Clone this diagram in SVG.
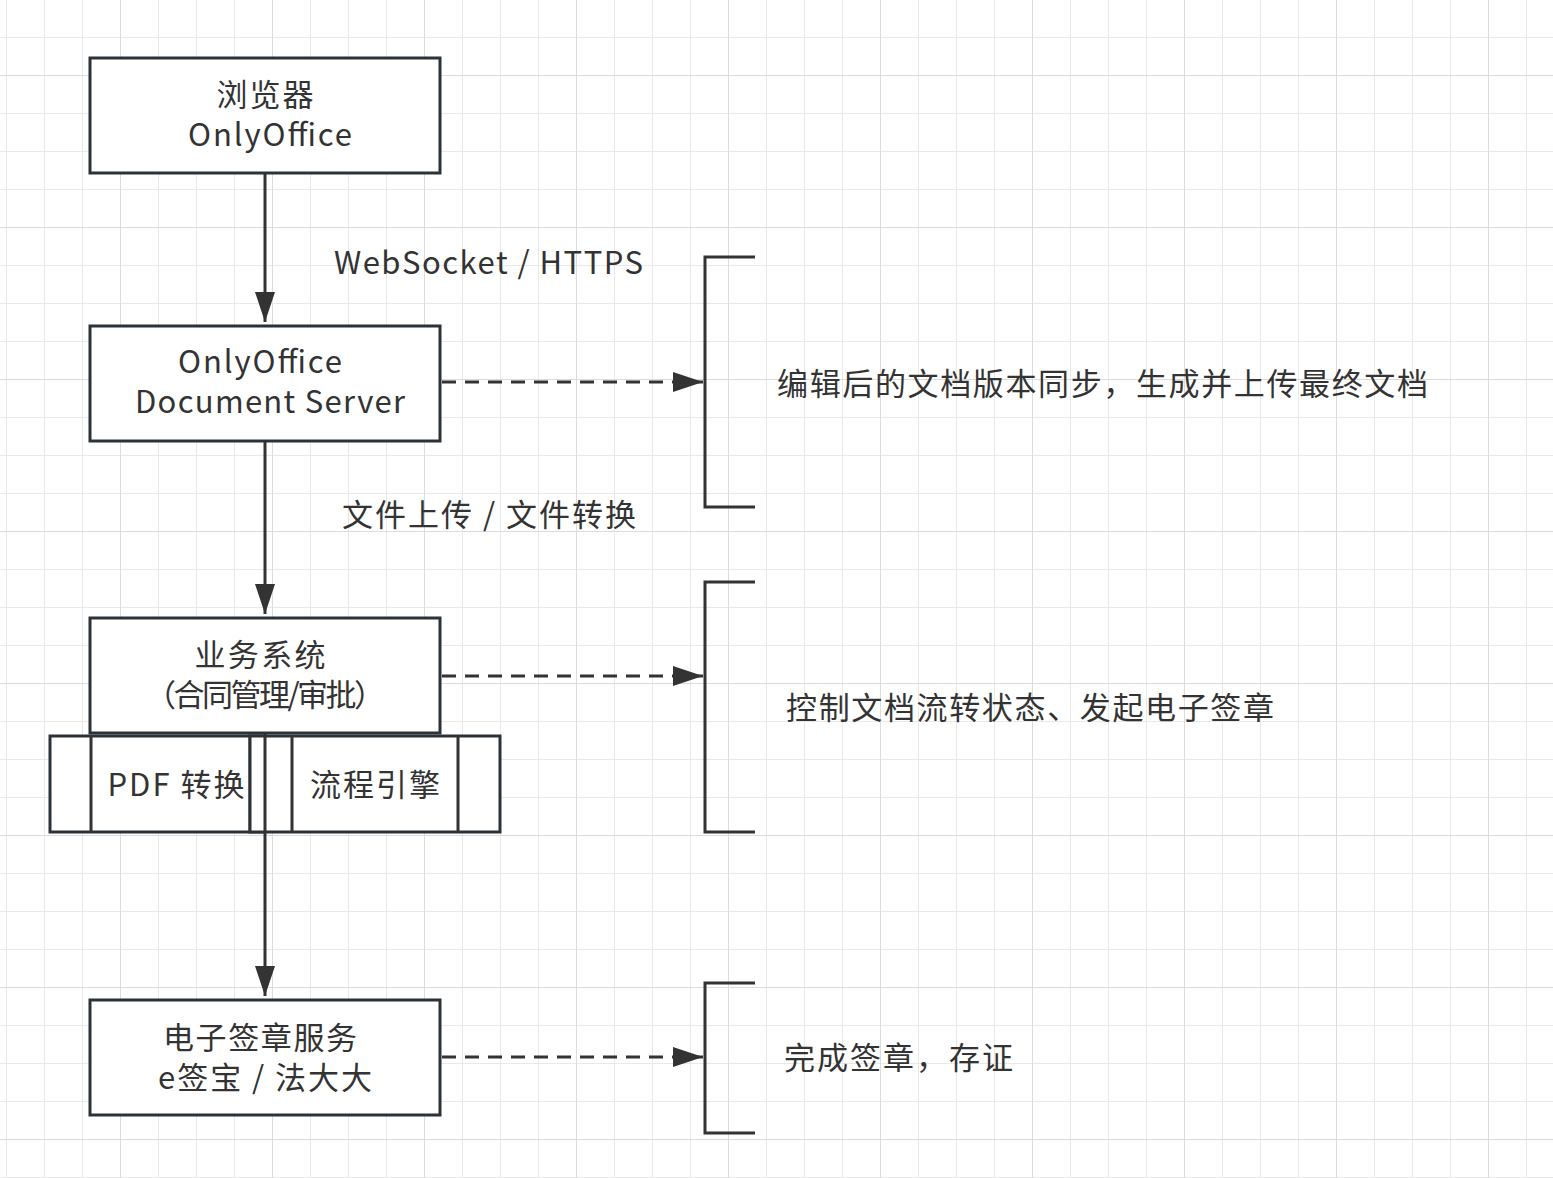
<svg xmlns="http://www.w3.org/2000/svg" width="1553" height="1178" viewBox="0 0 1553 1178">
<defs>
<pattern id="g" x="6" y="-1" width="38" height="38" patternUnits="userSpaceOnUse"><path d="M0 0V38M0 0H38" stroke="#e9e9e9" stroke-width="2" fill="none"/></pattern>
<pattern id="G" x="120" y="75" width="152" height="152" patternUnits="userSpaceOnUse"><path d="M0 0V152M0 0H152" stroke="#dcdcdc" stroke-width="2" fill="none"/></pattern>
<marker id="b" viewBox="0 0 30 20" refX="30" refY="10" markerWidth="30" markerHeight="20" markerUnits="userSpaceOnUse" orient="auto"><path d="M0 0L30 10L0 20Z" fill="#333"/></marker>
</defs>
<style>
.n{fill:#fff;stroke:#2b3238;stroke-width:3}
.t{font-family:"Noto Sans CJK SC","Noto Sans",sans-serif;font-size:31px;fill:#333;text-anchor:middle}
.l{font-family:"Noto Sans CJK SC","Noto Sans",sans-serif;font-size:31px;fill:#333}
.c{stroke:#333;stroke-width:3;fill:none}
.d{stroke:#333;stroke-width:3;fill:none;stroke-dasharray:14 9}
</style>
<rect width="1553" height="1178" fill="#fff"/>
<rect width="1553" height="1178" fill="url(#g)"/>
<rect width="1553" height="1178" fill="url(#G)"/>
<g id="connectors">
<path class="c" d="M265 173V322" marker-end="url(#b)"/>
<path class="c" d="M265 441V614" marker-end="url(#b)"/>
<path class="c" d="M265 733V996" marker-end="url(#b)"/>
<path class="d" d="M442 382H703" marker-end="url(#b)"/>
<path class="d" d="M442 676H703" marker-end="url(#b)"/>
<path class="d" d="M442 1057H703" marker-end="url(#b)"/>
<path class="c" d="M755 257H705V507H755"/>
<path class="c" d="M755 582H705V832H755"/>
<path class="c" d="M755 983H705V1133H755"/>
</g>
<text class="l" x="334" y="274" textLength="309">WebSocket / HTTPS</text>
<text class="l" x="342" y="526" textLength="294">文件上传 / 文件转换</text>
<text class="l" x="777" y="395" textLength="651">编辑后的文档版本同步，生成并上传最终文档</text>
<text class="l" x="786" y="719" textLength="488">控制文档流转状态、发起电子签章</text>
<text class="l" x="784" y="1069" textLength="229">完成签章，存证</text>
<g id="browser"><rect class="n" x="90" y="58" width="350" height="115"/><text class="t" x="265" y="106" textLength="97">浏览器</text><text class="t" x="270" y="146" textLength="164">OnlyOffice</text></g>
<g id="docserver"><rect class="n" x="90" y="326" width="350" height="115"/><text class="t" x="260" y="373" textLength="164">OnlyOffice</text><text class="t" x="270" y="413" textLength="270">Document Server</text></g>
<g id="biz"><rect class="n" x="90" y="618" width="350" height="115"/><text class="t" x="260" y="666" textLength="131">业务系统</text><text class="t" x="265" y="706" textLength="240">（合同管理/审批）</text></g>
<g id="pdf"><rect class="n" x="50" y="736" width="212" height="96"/><path class="c" d="M91 736V832M250 736V832"/><text class="t" x="176" y="796" textLength="137">PDF 转换</text></g>
<g id="flow"><rect class="n" x="250" y="736" width="250" height="96"/><path class="c" d="M292 736V832M458 736V832M265 736V832"/><text class="t" x="375" y="796" textLength="130">流程引擎</text></g>
<g id="esign"><rect class="n" x="90" y="1000" width="350" height="115"/><text class="t" x="260" y="1049" textLength="194">电子签章服务</text><text class="t" x="265" y="1089" textLength="214">e签宝 / 法大大</text></g>
</svg>
